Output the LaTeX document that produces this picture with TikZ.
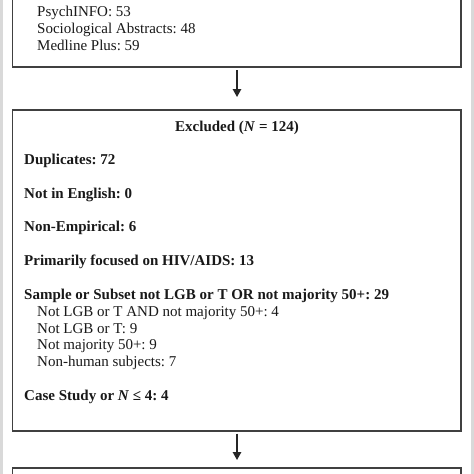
\documentclass[tikz,border=0pt]{standalone}
\usepackage{fontspec}
\setmainfont{Liberation Serif}
\usetikzlibrary{arrows.meta}
\frenchspacing
\begin{document}
\begin{tikzpicture}[x=1pt,y=-1pt,
  box/.style={draw=black!75,line width=1.4pt},
  txt/.style={anchor=base west,inner sep=0pt,text=black!90,font=\fontsize{15}{17}\selectfont\frenchspacing},
  btxt/.style={txt,font=\fontsize{15}{17}\selectfont\bfseries\frenchspacing},
  arr/.style={draw=black!85,line width=1.4pt,-{Triangle[length=8pt,width=8.5pt]}}]
\useasboundingbox (0,0) rectangle (474,474);
\fill[white] (0,0) rectangle (474,474);
\fill[black!15] (0,0) rectangle (3,474);
\fill[black!15] (470.5,0) rectangle (474,474);
% boxes
\draw[box] (12.5,-10) rectangle (461,67);
\draw[box] (12.5,110) rectangle (461,431);
\draw[box] (12.5,468) rectangle (461,490);
\coordinate (a1s) at (237,70);
\coordinate (a1e) at (237,97);
\coordinate (a2s) at (237,433.5);
\coordinate (a2e) at (237,460);
\draw[arr] (a1s) -- (a1e);
\draw[arr] (a2s) -- (a2e);
% top box text
\node[txt] (t1) at (37,16.8) {PsychINFO: 53};
\node[txt] (t2) at (37,33.4) {Sociological Abstracts: 48};
\node[txt] (t3) at (37,50) {Medline Plus: 59};
% second box
\node[btxt,anchor=base] (ex) at (237,131) {Excluded (\textit{N} = 124)};
\node[btxt] (e1) at (24,164.5) {Duplicates: 72};
\node[btxt] (e2) at (24,198) {Not in English: 0};
\node[btxt] (e3) at (24,231.5) {Non-Empirical: 6};
\node[btxt] (e4) at (24,265.5) {Primarily focused on HIV/AIDS: 13};
\node[btxt] (e5) at (24,299.5) {Sample or Subset not LGB or T OR not majority 50+: 29};
\node[txt] (s1) at (37,316.3) {Not LGB or T AND not majority 50+: 4};
\node[txt] (s2) at (37,333) {Not LGB or T: 9};
\node[txt] (s3) at (37,349.7) {Not majority 50+: 9};
\node[txt] (s4) at (37,366.4) {Non-human subjects: 7};
\node[btxt] (e6) at (24,400.5) {Case Study or \textit{N} ≤ 4: 4};
\end{tikzpicture}
\end{document}
